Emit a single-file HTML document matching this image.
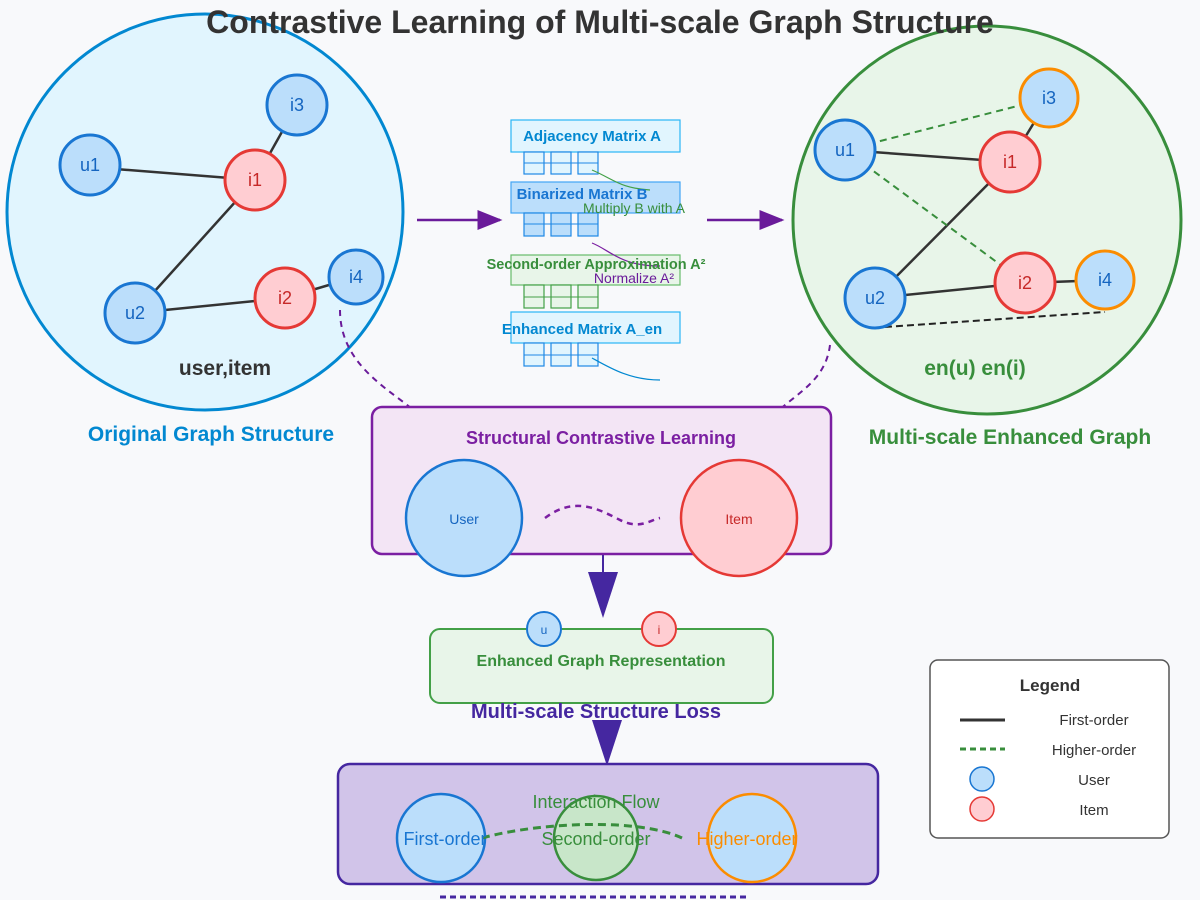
<!DOCTYPE html>
<html><head><meta charset="utf-8"><style>
html,body{margin:0;padding:0;background:#f8f9fb;}
svg{display:block;font-family:"Liberation Sans",Arial,sans-serif;}
</style></head><body>
<svg width="1200" height="900" viewBox="0 0 1200 900" xmlns="http://www.w3.org/2000/svg">
<defs>
<marker id="ap" markerWidth="10" markerHeight="8" refX="9" refY="4" orient="auto"><path d="M0,0 L10,4 L0,8 Z" fill="#6a1b9a"/></marker>
</defs>
<rect width="1200" height="900" fill="#f8f9fb"/>

<!-- left graph -->
<circle cx="205" cy="212" r="198" fill="#e1f5fe" stroke="#0288d1" stroke-width="3"/>
<g stroke="#333" stroke-width="2.5">
<line x1="90" y1="167" x2="255" y2="180"/><line x1="255" y1="180" x2="297" y2="105"/>
<line x1="255" y1="180" x2="135" y2="313"/><line x1="135" y1="313" x2="285" y2="298"/>
<line x1="285" y1="298" x2="356" y2="277"/></g>
<g stroke-width="3">
<circle cx="90" cy="165" r="30" fill="#bbdefb" stroke="#1976d2"/>
<circle cx="297" cy="105" r="30" fill="#bbdefb" stroke="#1976d2"/>
<circle cx="255" cy="180" r="30" fill="#ffcdd2" stroke="#e53935"/>
<circle cx="135" cy="313" r="30" fill="#bbdefb" stroke="#1976d2"/>
<circle cx="285" cy="298" r="30" fill="#ffcdd2" stroke="#e53935"/>
<circle cx="356" cy="277" r="27" fill="#bbdefb" stroke="#1976d2"/></g>
<g font-size="18" text-anchor="middle">
<text x="90" y="171" fill="#1565c0">u1</text><text x="297" y="111" fill="#1565c0">i3</text>
<text x="255" y="186" fill="#c62828">i1</text><text x="135" y="319" fill="#1565c0">u2</text>
<text x="285" y="304" fill="#c62828">i2</text><text x="356" y="283" fill="#1565c0">i4</text></g>
<text x="225" y="375" text-anchor="middle" font-size="21" font-weight="bold" fill="#333">user,item</text>
<text x="211" y="441" text-anchor="middle" font-size="21" font-weight="bold" fill="#0288d1">Original Graph Structure</text>

<!-- right graph -->
<circle cx="987" cy="220" r="194" fill="#e8f5e9" stroke="#388e3c" stroke-width="3"/>
<g stroke="#333" stroke-width="2.5">
<line x1="845" y1="150" x2="1010" y2="162"/><line x1="1010" y1="162" x2="1049" y2="98"/>
<line x1="1010" y1="162" x2="875" y2="298"/><line x1="875" y1="298" x2="1025" y2="283"/>
<line x1="1025" y1="283" x2="1105" y2="280"/></g>
<g stroke="#388e3c" stroke-width="2" stroke-dasharray="7,5" fill="none">
<line x1="845" y1="150" x2="1049" y2="98"/><line x1="845" y1="150" x2="1025" y2="283"/></g>
<line x1="885" y1="327" x2="1105" y2="312" stroke="#222" stroke-width="2" stroke-dasharray="7,4"/>
<g stroke-width="3">
<circle cx="1049" cy="98" r="29" fill="#bbdefb" stroke="#fb8c00"/>
<circle cx="845" cy="150" r="30" fill="#bbdefb" stroke="#1976d2"/>
<circle cx="1010" cy="162" r="30" fill="#ffcdd2" stroke="#e53935"/>
<circle cx="875" cy="298" r="30" fill="#bbdefb" stroke="#1976d2"/>
<circle cx="1025" cy="283" r="30" fill="#ffcdd2" stroke="#e53935"/>
<circle cx="1105" cy="280" r="29" fill="#bbdefb" stroke="#fb8c00"/></g>
<g font-size="18" text-anchor="middle">
<text x="1049" y="104" fill="#1565c0">i3</text><text x="845" y="156" fill="#1565c0">u1</text>
<text x="1010" y="168" fill="#c62828">i1</text><text x="875" y="304" fill="#1565c0">u2</text>
<text x="1025" y="289" fill="#c62828">i2</text><text x="1105" y="286" fill="#1565c0">i4</text></g>
<text x="975" y="375" text-anchor="middle" font-size="21" font-weight="bold" fill="#388e3c">en(u) en(i)</text>
<text x="1010" y="444" text-anchor="middle" font-size="21" font-weight="bold" fill="#388e3c">Multi-scale Enhanced Graph</text>

<!-- arrows -->
<line x1="417" y1="220" x2="500" y2="220" stroke="#6a1b9a" stroke-width="2.5" marker-end="url(#ap)"/>
<line x1="707" y1="220" x2="782" y2="220" stroke="#6a1b9a" stroke-width="2.5" marker-end="url(#ap)"/>

<!-- matrices -->
<g stroke-width="1.2">
<rect x="511" y="120" width="169" height="32" fill="#e1f5fe" stroke="#29b6f6"/>
<g fill="#e1f5fe" stroke="#1e88e5"><rect x="524" y="152" width="20" height="22"/><rect x="551" y="152" width="20" height="22"/><rect x="578" y="152" width="20" height="22"/></g>
<rect x="511" y="182" width="169" height="31" fill="#bbdefb" stroke="#42a5f5"/>
<g fill="#bbdefb" stroke="#1e88e5"><rect x="524" y="213" width="20" height="23"/><rect x="551" y="213" width="20" height="23"/><rect x="578" y="213" width="20" height="23"/></g>
<rect x="511" y="255" width="169" height="30" fill="#e8f5e9" stroke="#66bb6a"/>
<g fill="#e8f5e9" stroke="#43a047"><rect x="524" y="285" width="20" height="23"/><rect x="551" y="285" width="20" height="23"/><rect x="578" y="285" width="20" height="23"/></g>
<rect x="511" y="312" width="169" height="31" fill="#e1f5fe" stroke="#29b6f6"/>
<g fill="#e1f5fe" stroke="#1e88e5"><rect x="524" y="343" width="20" height="23"/><rect x="551" y="343" width="20" height="23"/><rect x="578" y="343" width="20" height="23"/></g>
<g stroke-width="1"><line x1="524" y1="163" x2="598" y2="163" stroke="#1e88e5"/><line x1="524" y1="224" x2="598" y2="224" stroke="#1e88e5"/><line x1="524" y1="297" x2="598" y2="297" stroke="#43a047"/><line x1="524" y1="355" x2="598" y2="355" stroke="#1e88e5"/></g>
</g>
<path d="M592,170 C615,180 620,188 650,190" fill="none" stroke="#43a047" stroke-width="1.2"/>
<path d="M592,243 C610,250 620,266 660,266" fill="none" stroke="#7b1fa2" stroke-width="1.2"/>
<path d="M592,358 C610,368 630,380 660,380" fill="none" stroke="#0288d1" stroke-width="1.2"/>
<g font-weight="bold" font-size="15" text-anchor="middle">
<text x="592" y="141" fill="#0288d1">Adjacency Matrix A</text>
<text x="582" y="199" fill="#1976d2">Binarized Matrix B</text>
<text x="596" y="269" fill="#388e3c" font-size="14.5">Second-order Approximation A²</text>
<text x="582" y="334" fill="#0288d1">Enhanced Matrix A_en</text></g>
<text x="634" y="213" text-anchor="middle" font-size="14" fill="#388e3c">Multiply B with A</text>
<text x="634" y="283" text-anchor="middle" font-size="14" fill="#6a1b9a">Normalize A²</text>

<!-- dashed connectors -->
<path d="M340,310 C340,380 420,400 432,432" fill="none" stroke="#6a1b9a" stroke-width="2" stroke-dasharray="6,5"/>
<path d="M830,345 C825,385 790,395 770,420" fill="none" stroke="#6a1b9a" stroke-width="2" stroke-dasharray="6,5"/>

<!-- contrastive box -->
<rect x="372" y="407" width="459" height="147" rx="10" fill="#f3e5f5" stroke="#7b1fa2" stroke-width="2.5"/>
<text x="601" y="444" text-anchor="middle" font-size="18" font-weight="bold" fill="#7b1fa2">Structural Contrastive Learning</text>
<circle cx="464" cy="518" r="58" fill="#bbdefb" stroke="#1976d2" stroke-width="2.5"/>
<circle cx="739" cy="518" r="58" fill="#ffcdd2" stroke="#e53935" stroke-width="2.5"/>
<text x="464" y="524" text-anchor="middle" font-size="14" fill="#1565c0">User</text>
<text x="739" y="524" text-anchor="middle" font-size="14" fill="#c62828">Item</text>
<path d="M545,518 C575,495 600,510 620,520 C640,530 650,520 660,518" fill="none" stroke="#7b1fa2" stroke-width="2.5" stroke-dasharray="6,5"/>

<!-- down arrow 1 -->
<line x1="603" y1="555" x2="603" y2="575" stroke="#4527a0" stroke-width="2"/>
<path d="M588,572 L618,572 L603,618 Z" fill="#4527a0"/>

<!-- representation box -->
<rect x="430" y="629" width="343" height="74" rx="10" fill="#e8f5e9" stroke="#43a047" stroke-width="2"/>
<text x="601" y="666" text-anchor="middle" font-size="16" font-weight="bold" fill="#388e3c">Enhanced Graph Representation</text>
<circle cx="544" cy="629" r="17" fill="#bbdefb" stroke="#1976d2" stroke-width="2"/>
<circle cx="659" cy="629" r="17" fill="#ffcdd2" stroke="#e53935" stroke-width="2"/>
<text x="544" y="634" text-anchor="middle" font-size="12" fill="#1565c0">u</text>
<text x="659" y="634" text-anchor="middle" font-size="12" fill="#c62828">i</text>
<text x="596" y="718" text-anchor="middle" font-size="20" font-weight="bold" fill="#4527a0">Multi-scale Structure Loss</text>

<!-- down arrow 2 -->
<path d="M592,720 L622,720 L607,766 Z" fill="#4527a0"/>

<!-- bottom box -->
<rect x="338" y="764" width="540" height="120" rx="12" fill="#d1c4e9" stroke="#4527a0" stroke-width="2.5"/>
<circle cx="441" cy="838" r="44" fill="#bbdefb" stroke="#1976d2" stroke-width="2.5"/>
<circle cx="596" cy="838" r="42" fill="#c8e6c9" stroke="#388e3c" stroke-width="2.5"/>
<circle cx="752" cy="838" r="44" fill="#bbdefb" stroke="#fb8c00" stroke-width="2.5"/>
<path d="M482,838 C540,822 640,818 682,838" fill="none" stroke="#388e3c" stroke-width="3" stroke-dasharray="8,5"/>
<text x="596" y="808" text-anchor="middle" font-size="18" fill="#388e3c">Interaction Flow</text>
<text x="445" y="845" text-anchor="middle" font-size="18" fill="#1976d2">First-order</text>
<text x="596" y="845" text-anchor="middle" font-size="18" fill="#388e3c">Second-order</text>
<text x="747" y="845" text-anchor="middle" font-size="18" fill="#fb8c00">Higher-order</text>
<line x1="440" y1="897" x2="748" y2="897" stroke="#4527a0" stroke-width="3" stroke-dasharray="6,4"/>

<!-- legend -->
<rect x="930" y="660" width="239" height="178" rx="8" fill="#fff" stroke="#555" stroke-width="1.5"/>
<text x="1050" y="691" text-anchor="middle" font-size="17" font-weight="bold" fill="#333">Legend</text>
<line x1="960" y1="720" x2="1005" y2="720" stroke="#333" stroke-width="3"/>
<line x1="960" y1="749" x2="1005" y2="749" stroke="#388e3c" stroke-width="3" stroke-dasharray="6,4"/>
<circle cx="982" cy="779" r="12" fill="#bbdefb" stroke="#1976d2" stroke-width="1.5"/>
<circle cx="982" cy="809" r="12" fill="#ffcdd2" stroke="#e53935" stroke-width="1.5"/>
<g font-size="15" fill="#333" text-anchor="middle">
<text x="1094" y="725">First-order</text><text x="1094" y="755">Higher-order</text>
<text x="1094" y="785">User</text><text x="1094" y="815">Item</text></g>

<text x="600" y="33" text-anchor="middle" font-size="32" font-weight="bold" fill="#333">Contrastive Learning of Multi-scale Graph Structure</text>
</svg>
</body></html>
